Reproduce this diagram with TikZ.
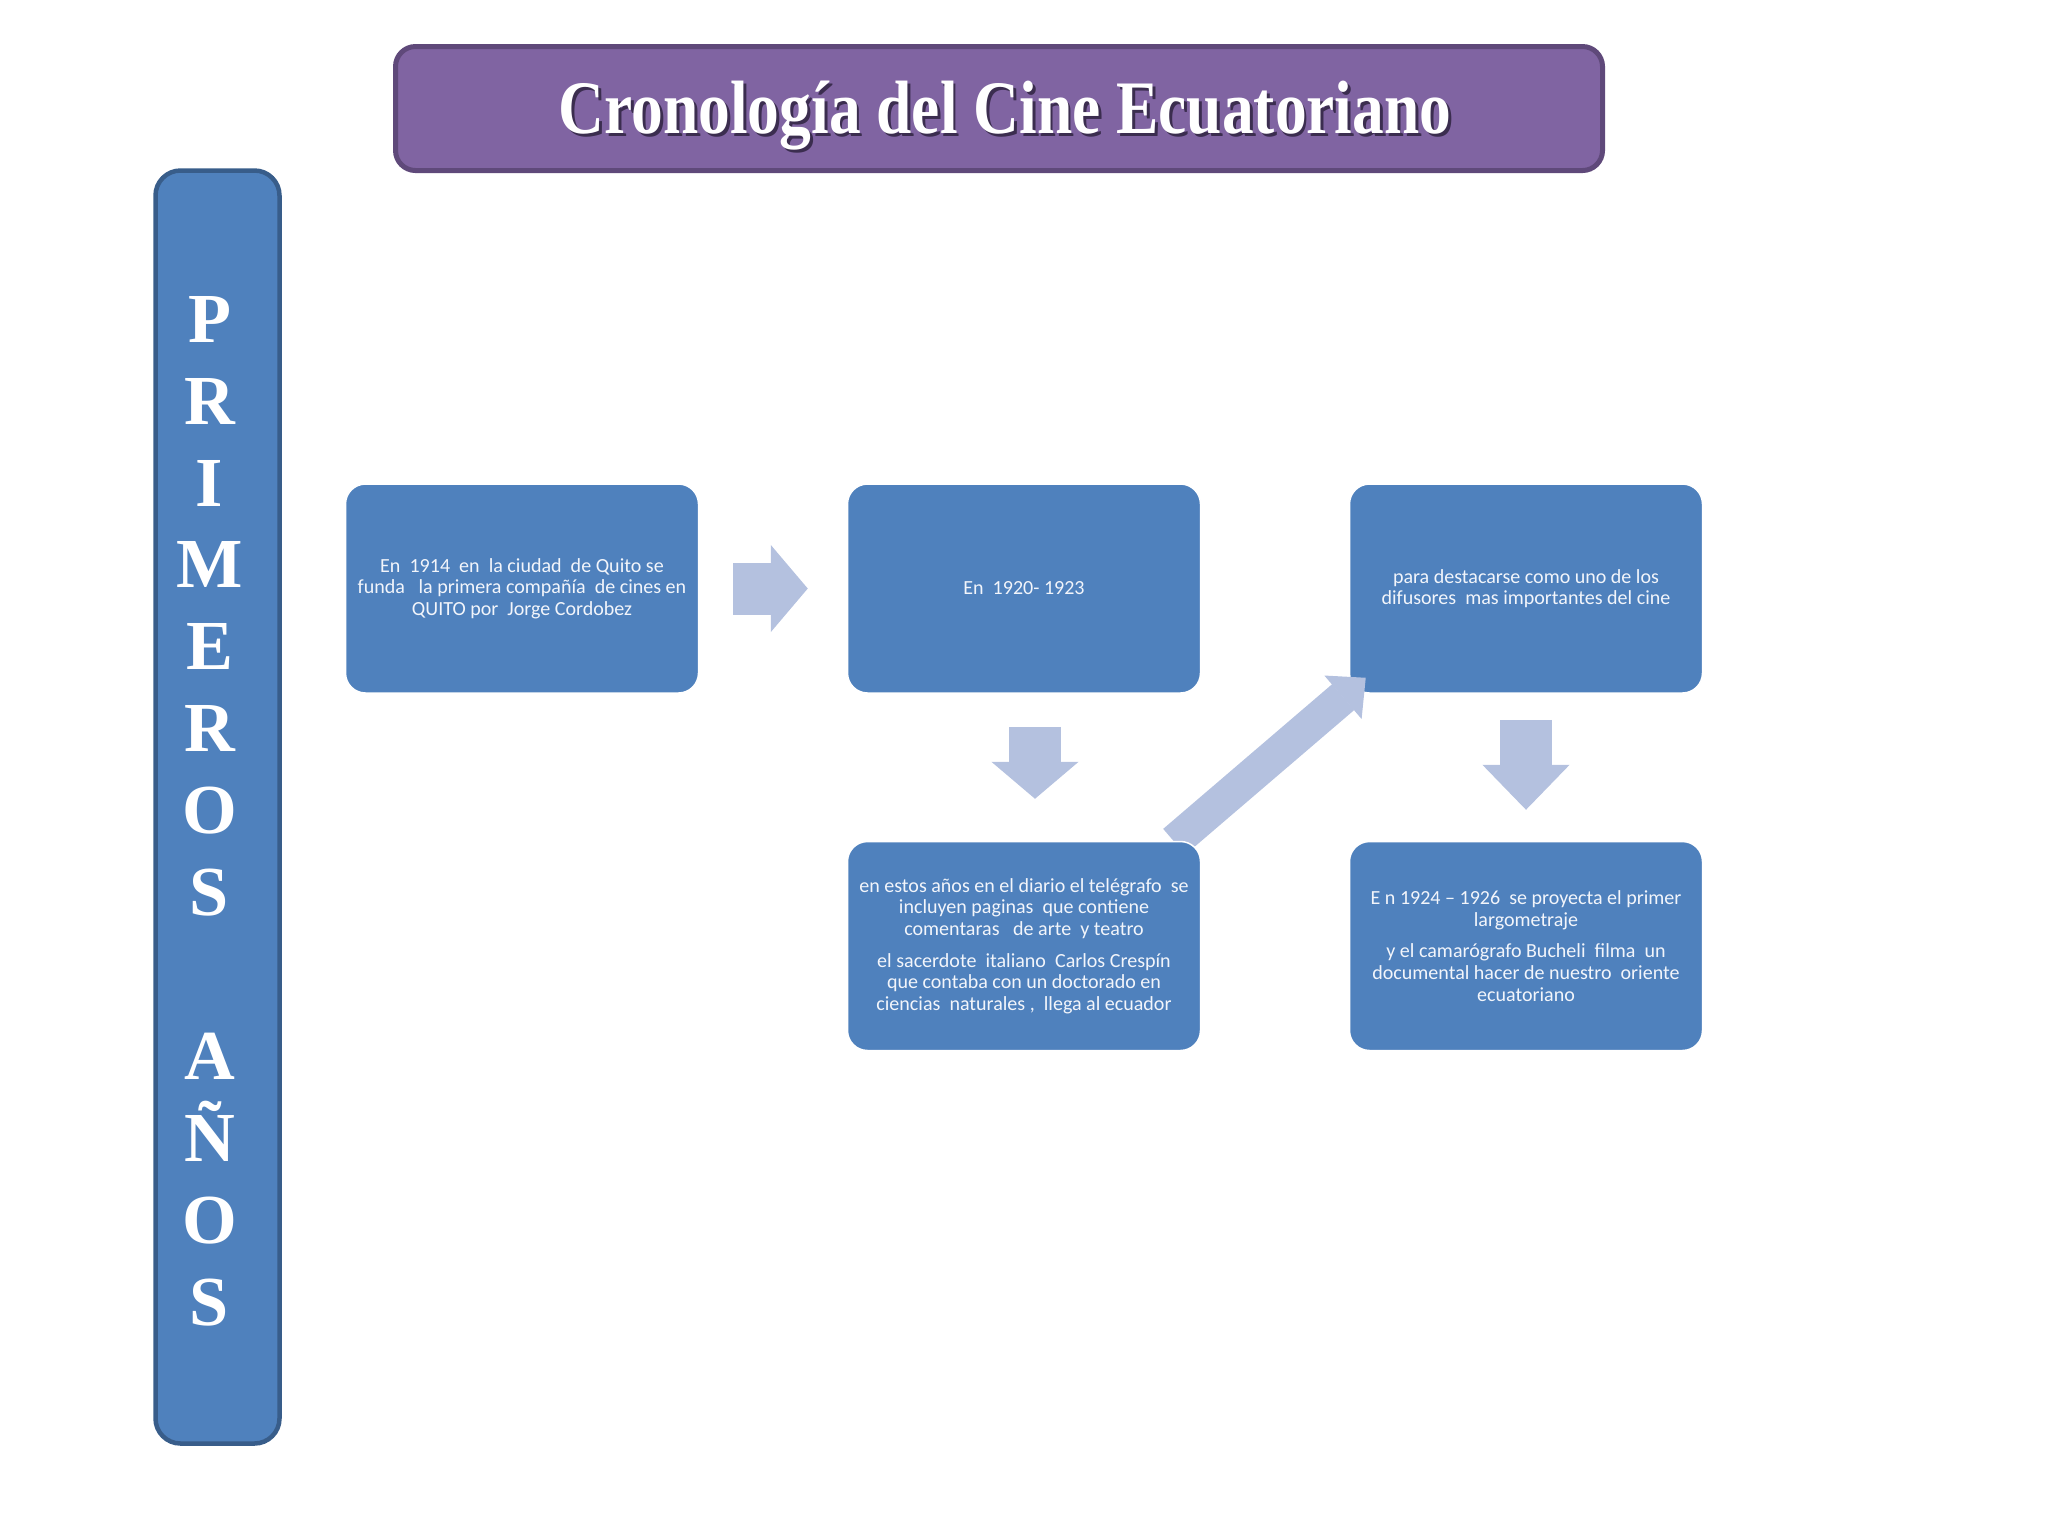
\documentclass[tikz,border=0pt]{standalone}
\usepackage{fontspec}
\setmainfont{Carlito}
\newfontfamily\headfont{Liberation Serif}
\usetikzlibrary{arrows.meta,positioning,calc}
\definecolor{boxblue}{HTML}{4F81BD}
\definecolor{barline}{HTML}{385D8A}
\definecolor{titlefill}{HTML}{8064A2}
\definecolor{titleline}{HTML}{5F497A}
\definecolor{titleshadow}{HTML}{3B2D4F}
\definecolor{arrowblue}{HTML}{B4C1DF}
\definecolor{boxtext}{HTML}{F2F5FB}
\newcommand{\shadowed}[1]{\makebox[0pt][l]{\hspace{0.35mm}\raisebox{-0.35mm}{\textcolor{titleshadow}{#1}}}#1}
\pgfdeclarelayer{front}
\pgfsetlayers{main,front}

\begin{document}
\begin{tikzpicture}[x=0.1mm,y=-0.1mm,
  title/.style={rounded corners=2mm, draw=titleline, line width=0.5mm, fill=titlefill,
                minimum width=120.7mm, minimum height=12.4mm, text=white,
                text height=6mm, text depth=1.1mm,
                font=\headfont\bfseries\fontsize{21.5}{24}\selectfont},
  bar/.style={rounded corners=2.5mm, draw=barline, line width=0.45mm, fill=boxblue,
              minimum width=12.4mm, minimum height=127.3mm},
  bartext/.style={align=center, text=white, inner sep=0pt,
                  font=\headfont\bfseries\fontsize{20}{23.3}\selectfont},
  event/.style={rounded corners=2mm, draw=white, line width=0.15mm, fill=boxblue,
                minimum width=35.3mm, minimum height=20.9mm, align=center, text=boxtext,
                font=\fontsize{5.7}{6.15}\selectfont},
  blk/.style={draw=arrowblue, line width=5.2mm,
              -{Triangle[length=3.7mm,width=8.7mm,line width=0.4pt]}},
  diag/.style={draw=arrowblue, line width=3.4mm,
               -{Triangle[length=3mm,width=5.7mm,line width=0.4pt]}}
]
  \useasboundingbox (0,0) rectangle (2048,1536);

  \node[title] (ttl) at (999,108.5) {\hspace*{1.2mm}\scalebox{0.84}[1]{\shadowed{Cronología del Cine Ecuatoriano}}};
  \node[bar] (era) at (217.5,807) {};
  \node[bartext] (eraname) at ($(era.center)+(-8,4)$) {P\\R\\I\\M\\E\\R\\O\\S\\[8.2mm]A\\Ñ\\O\\S};

  \node[event] (e1914) at (522,588.5) {En \ 1914 \ en \ la ciudad \ de Quito se\\funda \ \ la primera compañía \ de cines en\\QUITO por \ Jorge Cordobez};
  \node[event,right=14.75mm of e1914] (e1920) {En \ 1920- 1923};
  \node[event,right=14.75mm of e1920] (edif)  {para destacarse como uno de los\\difusores \ mas importantes del cine};
  \begin{pgfonlayer}{front}
    \node[event,below=14.7mm of e1920] (ediario) {en estos años en el diario el telégrafo \ se\\incluyen paginas \ que contiene\\comentaras \ \ de arte \ y teatro\\[1mm]el sacerdote \ italiano \ Carlos Crespín\\que contaba con un doctorado en\\ciencias \ naturales , \ llega al ecuador};
    \node[event,below=14.7mm of edif] (e1924) {E n 1924 -- 1926 \ se proyecta el primer\\largometraje\\[1mm]y el camarógrafo Bucheli \ filma \ un\\documental hacer de nuestro \ oriente\\ecuatoriano};
  \end{pgfonlayer}

  \draw[blk] ($(e1914.east)+(34,0)$) -- ($(e1920.west)+(-39,0)$);
  \draw[blk] ($(e1920.south)+(11,33)$) -- ($(ediario.north)+(11,-42)$);
  \draw[blk,-{Triangle[length=4.5mm,width=8.7mm,line width=0.4pt]}] ($(edif.south)+(0,26)$) -- ($(e1924.north)+(0,-31)$);
  \draw[diag] ($(ediario.north east)+(-27,1)$) -- ($(edif.south west)+(17,-16)$);
\end{tikzpicture}
\end{document}
